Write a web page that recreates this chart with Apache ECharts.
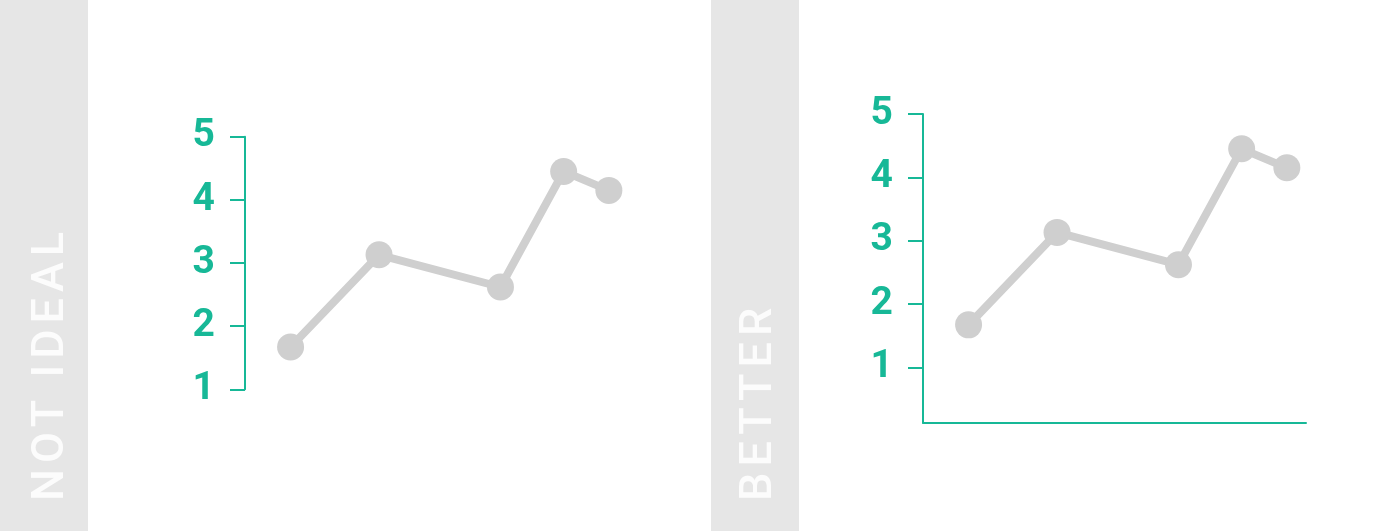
<!DOCTYPE html>
<html>
<head>
<meta charset="utf-8">
<script src="https://cdn.jsdelivr.net/npm/echarts@6/dist/echarts.min.js"></script>
<style>
  html, body { margin: 0; padding: 0; background: #fff; }
  #wrap { position: relative; width: 1400px; height: 531px; }
  #main { width: 1400px; height: 531px; }
  .band-label {
    position: absolute;
    transform: rotate(-90deg);
    transform-origin: left top;
    font-family: Roboto, sans-serif;
    font-size: 45px;
    font-weight: 500;
    line-height: 45px;
    letter-spacing: 6px;
    color: #fcfcfc;
    white-space: nowrap;
  }
</style>
</head>
<body>
<div id="wrap">
  <div id="main"></div>
  <div class="band-label" style="left:25px; top:501px;">NOT IDEAL</div>
  <div class="band-label" style="left:733px; top:501px;">BETTER</div>
</div>
<script>
// same line drawn twice: left without an x axis, right with one
var xValues = [1.19, 3.5, 6.67, 8.32, 9.5];
var yValues = [1.67, 3.13, 2.62, 4.45, 4.15];
var yTicks = [1, 2, 3, 4, 5];

var green = '#17b897';
var grey = '#cfcfcf';

var chartDom = document.getElementById('main');
var myChart = echarts.init(chartDom);

var points = xValues.map(function (x, i) { return [x, yValues[i]]; });

function yAxisFor(idx, min) {
  return {
    type: 'value',
    gridIndex: idx,
    min: min,
    max: 5,
    axisLine: { show: true, lineStyle: { color: green, width: 2 } },
    axisTick: { show: true, length: 15, customValues: yTicks, lineStyle: { color: green, width: 2 } },
    axisLabel: {
      customValues: yTicks,
      margin: 30,
      color: green,
      fontFamily: 'Roboto',
      fontSize: 39,
      fontWeight: 'bold'
    },
    splitLine: { show: false }
  };
}

function lineSeries(idx) {
  return {
    type: 'line',
    xAxisIndex: idx,
    yAxisIndex: idx,
    data: points,
    symbol: 'circle',
    symbolSize: 27,
    itemStyle: { color: grey },
    lineStyle: { color: grey, width: 8 },
    silent: true
  };
}

var option = {
  animation: false,
  graphic: [
    { type: 'rect', shape: { x: 0, y: 0, width: 88, height: 531 }, style: { fill: '#e6e6e6' }, z: -10 },
    { type: 'rect', shape: { x: 711, y: 0, width: 88, height: 531 }, style: { fill: '#e6e6e6' }, z: -10 }
  ],
  grid: [
    { left: 245, top: 136.7, width: 383, height: 252.6 },
    { left: 923, top: 114, width: 383, height: 308.7 }
  ],
  xAxis: [
    { type: 'value', gridIndex: 0, min: 0, max: 10, show: false },
    {
      type: 'value', gridIndex: 1, min: 0, max: 10,
      axisLine: { show: true, lineStyle: { color: green, width: 2 } },
      axisTick: { show: false },
      axisLabel: { show: false },
      splitLine: { show: false }
    }
  ],
  yAxis: [yAxisFor(0, 1), yAxisFor(1, 0.125)],
  series: [lineSeries(0), lineSeries(1)]
};

myChart.setOption(option);
</script>
</body>
</html>
